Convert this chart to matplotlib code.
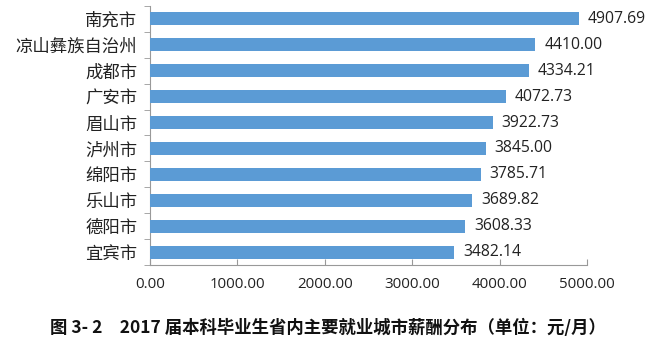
import matplotlib
matplotlib.use("Agg")
import matplotlib.pyplot as plt
import numpy as np

cities = ["南充市", "凉山彝族自治州", "成都市", "广安市", "眉山市", "泸州市", "绵阳市", "乐山市", "德阳市", "宜宾市"]
salaries = [4907.69, 4410.00, 4334.21, 4072.73, 3922.73, 3845.00, 3785.71, 3689.82, 3608.33, 3482.14]
xticks = [0, 1000, 2000, 3000, 4000, 5000]
title = "图 3- 2　2017 届本科毕业生省内主要就业城市薪酬分布（单位：元/月）"

plt.rcParams['font.family'] = ['Noto Sans CJK SC', 'DejaVu Sans']

fig = plt.figure(figsize=(6.66, 3.46), dpi=100)
ax = fig.add_axes([150/666, 1-265/346, (587-150)/666, (265-6)/346])

n = len(cities)
y = np.arange(n)[::-1]
ax.barh(y, salaries, height=0.5, color="#5B9BD5", zorder=3)
ax.set_xlim(0, 5000)
ax.set_ylim(-0.5, n-0.5)

for yi, v in zip(y, salaries):
    ax.text(v + 100, yi, f"{v:.2f}", va="center", ha="left", fontsize=11.3,
            family=['Open Sans', 'DejaVu Sans'], color="#222222")

ax.set_yticks(y)
ax.set_yticklabels(cities, fontsize=12.5, color="#222222")
ax.tick_params(axis='y', length=0, pad=9)
# boundary ticks on the left spine
ax.set_yticks(np.arange(-0.5, n, 1), minor=True)
ax.tick_params(axis='y', which='minor', length=4, direction='out', color="#999999")

ax.set_xticks(xticks)
ax.set_xticklabels([f"{t:.2f}" for t in xticks], fontsize=10.8, family=['Open Sans', 'DejaVu Sans'], color="#222222")
ax.tick_params(axis='x', length=4, direction='in', color="#999999", pad=9)

for s in ['top', 'right']:
    ax.spines[s].set_visible(False)
for s in ['left', 'bottom']:
    ax.spines[s].set_color("#999999")
    ax.spines[s].set_linewidth(0.8)

fig.text(328/666, 1-328/346, title, ha="center", va="center", fontsize=12.5, fontweight="bold", color="#111111")

fig.savefig("out.png", dpi=100)
